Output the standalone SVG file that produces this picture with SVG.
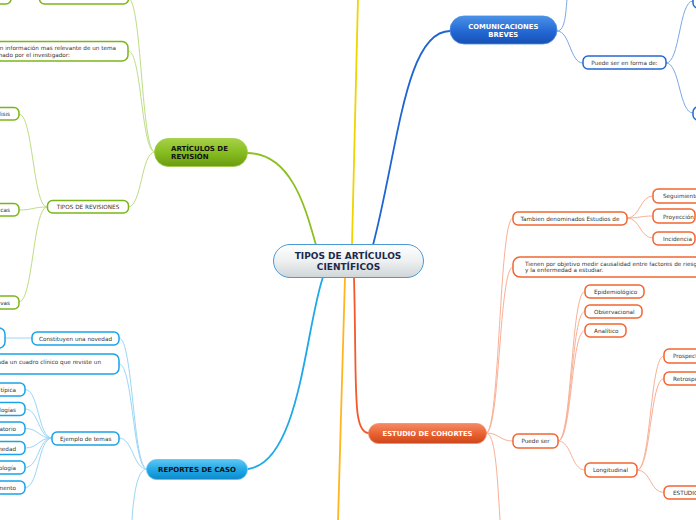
<svg xmlns="http://www.w3.org/2000/svg" width="696" height="520" viewBox="0 0 696 520">
<defs>
<linearGradient id="gC" x1="0" y1="0" x2="0" y2="1"><stop offset="0" stop-color="#ffffff"/><stop offset="0.5" stop-color="#eef0f1"/><stop offset="1" stop-color="#cfd5d8"/></linearGradient>
<linearGradient id="gG" x1="0" y1="0" x2="0" y2="1"><stop offset="0" stop-color="#a6d246"/><stop offset="0.55" stop-color="#84ba1e"/><stop offset="1" stop-color="#6a9a12"/></linearGradient>
<linearGradient id="gB" x1="0" y1="0" x2="0" y2="1"><stop offset="0" stop-color="#4a92e8"/><stop offset="0.55" stop-color="#2468d4"/><stop offset="1" stop-color="#1650b4"/></linearGradient>
<linearGradient id="gL" x1="0" y1="0" x2="0" y2="1"><stop offset="0" stop-color="#5cc6f4"/><stop offset="0.55" stop-color="#1ea6e6"/><stop offset="1" stop-color="#0f88c8"/></linearGradient>
<linearGradient id="gO" x1="0" y1="0" x2="0" y2="1"><stop offset="0" stop-color="#f58a64"/><stop offset="0.55" stop-color="#e8602f"/><stop offset="1" stop-color="#cc461c"/></linearGradient>
</defs>
<style>
.t{font-family:"DejaVu Sans",Verdana,sans-serif;font-size:5.7px;fill:#333}
.m{font-family:"DejaVu Sans",Verdana,sans-serif;font-weight:bold}
.sg{fill:#fff;stroke:#7cb518;stroke-width:1.5}
.sl{fill:#fff;stroke:#1aa3e8;stroke-width:1.5}
.sb{fill:#fff;stroke:#2468d0;stroke-width:1.5}
.so{fill:#fff;stroke:#f26531;stroke-width:1.5}
.cg{fill:none;stroke:#bddd85;stroke-width:1}
.cl{fill:none;stroke:#9ad6f5;stroke-width:1}
.cb{fill:none;stroke:#7aa7e6;stroke-width:1}
.co{fill:none;stroke:#f8b096;stroke-width:1}
.cm{fill:none;stroke-width:1.8}
</style>
<rect width="696" height="520" fill="#fff"/>
<g id="connectors">
<path class="cm" stroke="#f0d400" d="M352,245 C354,160 356,80 358,-2"/>
<path class="cm" stroke="#ffb61e" d="M345,277 C343,360 340,440 338,522"/>
<path class="cm" stroke="#8cc021" d="M316,245 C306,210 292,153 247,153"/>
<path class="cm" stroke="#1e64d2" d="M373,245 C398,150 405,31 450,31"/>
<path class="cm" stroke="#1ea8ea" d="M323,277 C305,330 300,462 248,469"/>
<path class="cm" stroke="#f25a2a" d="M354,277 C357,390 352,433 369,433"/>
<path class="cg" d="M155,152 C141,152 142,-2 128,-2"/>
<path class="cg" d="M155,152 C141,152 142,51 128,51"/>
<path class="cg" d="M155,152 C141,152 142,207 128,207"/>
<path class="cg" d="M47,207 C33,207 33,114 19,114"/>
<path class="cg" d="M47,207 C33,207 33,210 19,210"/>
<path class="cg" d="M47,207 C33,207 33,302 19,302"/>
<path class="cl" d="M147,469 C133,469 133,338 119,338"/>
<path class="cl" d="M147,469 C133,469 133,364 119,364"/>
<path class="cl" d="M147,469 C133,469 133,438 119,438"/>
<path class="cl" d="M147,469 C138,469 134,490 132,520"/>
<path class="cl" d="M32,338 L5,338"/>
<path class="cl" d="M52,438 C38,438 39,389.5 25,389.5"/>
<path class="cl" d="M52,438 C38,438 39,409 25,409"/>
<path class="cl" d="M52,438 C38,438 39,428.5 25,428.5"/>
<path class="cl" d="M52,438 C38,438 39,448 25,448"/>
<path class="cl" d="M52,438 C38,438 39,467.5 25,467.5"/>
<path class="cl" d="M52,438 C38,438 39,487.5 25,487.5"/>
<path class="cb" d="M557,31 C566,31 566,10 568,-15"/>
<path class="cb" d="M557,31 C570,31 570,63 583,63"/>
<path class="cb" d="M666,63 C680,63 679,1 693,1"/>
<path class="cb" d="M666,63 C680,63 679,113 693,113"/>
<path class="co" d="M486,433 C500,433 499,218 513,218"/>
<path class="co" d="M486,433 C500,433 499,267 513,267"/>
<path class="co" d="M486,433 C500,433 499,441 513,441"/>
<path class="co" d="M486,433 C495,433 497,470 500,520"/>
<path class="co" d="M627,218 C640,218 640,196 653,196"/>
<path class="co" d="M627,218 C640,218 640,216 653,216"/>
<path class="co" d="M627,218 C640,218 640,238 653,238"/>
<path class="co" d="M558,441 C572,441 571,291.5 585,291.5"/>
<path class="co" d="M558,441 C572,441 571,311.5 585,311.5"/>
<path class="co" d="M558,441 C572,441 571,330.5 585,330.5"/>
<path class="co" d="M558,441 C572,441 571,470 585,470"/>
<path class="co" d="M637,470 C651,470 650,356 664,356"/>
<path class="co" d="M637,470 C651,470 650,378.5 664,378.5"/>
<path class="co" d="M637,470 C651,470 650,492.5 664,492.5"/>
</g>
<g id="center"><rect x="273.5" y="244.5" width="150" height="33" rx="16.5" fill="url(#gC)" stroke="#4a9ad6" stroke-width="1"/>
<text class="m" font-size="9" fill="#1b2a4e" text-anchor="middle" x="348" y="259.3">TIPOS DE ARTÍCULOS</text>
<text class="m" font-size="9" fill="#1b2a4e" text-anchor="middle" x="348.5" y="270">CIENTÍFICOS</text></g>
<g id="articulos"><rect x="154.5" y="138.5" width="93" height="28" rx="14" fill="url(#gG)" stroke="#9ccc40" stroke-width="0.8"/>
<text class="m" font-size="7" fill="#111" x="171" y="150.7">ARTÍCULOS DE</text>
<text class="m" font-size="7" fill="#111" x="171" y="159.3">REVISIÓN</text></g>
<g id="comunicaciones"><rect x="450" y="16" width="107" height="28" rx="14" fill="url(#gB)" stroke="#4a8fe0" stroke-width="0.8"/>
<text class="m" font-size="6.8" fill="#fff" text-anchor="middle" x="503.3" y="29">COMUNICACIONES</text>
<text class="m" font-size="6.8" fill="#fff" text-anchor="middle" x="503.3" y="37">BREVES</text></g>
<g id="reportes"><rect x="146.5" y="459.5" width="101" height="20" rx="10" fill="url(#gL)" stroke="#5cc4f2" stroke-width="0.8"/>
<text class="m" font-size="7" fill="#111" text-anchor="middle" x="197" y="472">REPORTES DE CASO</text></g>
<g id="cohortes"><rect x="368.5" y="423.5" width="118" height="20" rx="10" fill="url(#gO)" stroke="#f58a64" stroke-width="0.8"/>
<text class="m" font-size="6.8" fill="#fff" text-anchor="middle" x="427.5" y="436">ESTUDIO DE COHORTES</text></g>
<g id="g-top"><rect class="sg" x="39.5" y="-9" width="89" height="13" rx="5"/></g>
<g id="g-top-left"><rect class="sg" x="-20" y="-9" width="31" height="13" rx="5"/></g>
<g id="g-info"><rect class="sg" x="-20" y="41.5" width="148" height="19.5" rx="6"/>
<text class="t" text-anchor="end" x="116" y="50">an información mas relevante de un tema</text>
<text class="t" text-anchor="end" x="70" y="57">onado por el investigador:</text></g>
<g id="g-tipos"><rect class="sg" x="47.5" y="200.5" width="81" height="12.5" rx="5"/>
<text class="t" text-anchor="middle" x="88" y="209">TIPOS DE REVISIONES</text></g>
<g id="g-lisis"><rect class="sg" x="-20" y="107.5" width="39" height="12.5" rx="5"/><text class="t" text-anchor="end" x="10" y="116">lisis</text></g>
<g id="g-icas"><rect class="sg" x="-20" y="203.5" width="39" height="12.5" rx="5"/><text class="t" text-anchor="end" x="10" y="212">icas</text></g>
<g id="g-ivas"><rect class="sg" x="-20" y="296" width="39" height="13" rx="5"/><text class="t" text-anchor="end" x="10" y="304.5">ivas</text></g>
<g id="l-const"><rect class="sl" x="32" y="332" width="87" height="13" rx="5"/><text class="t" text-anchor="middle" x="75.5" y="341">Constituyen una novedad</text></g>
<g id="l-const-left"><rect class="sl" x="-20" y="328" width="25" height="20" rx="6"/></g>
<g id="l-cuadro"><rect class="sl" x="-20" y="354" width="139" height="20" rx="6"/><text class="t" text-anchor="end" x="101" y="364">ada un cuadro clínico que reviste un</text></g>
<g id="l-ejemplo"><rect class="sl" x="52" y="432" width="67" height="13" rx="5"/><text class="t" text-anchor="middle" x="85.7" y="441">Ejemplo de temas</text></g>
<g id="l-e1"><rect class="sl" x="-20" y="383" width="45" height="13" rx="5"/><text class="t" text-anchor="end" x="16" y="392">típica</text></g>
<g id="l-e2"><rect class="sl" x="-20" y="402.5" width="45" height="13" rx="5"/><text class="t" text-anchor="end" x="16" y="411.5">logías</text></g>
<g id="l-e3"><rect class="sl" x="-20" y="422" width="45" height="13" rx="5"/><text class="t" text-anchor="end" x="16" y="431">atorio</text></g>
<g id="l-e4"><rect class="sl" x="-20" y="441.5" width="45" height="13" rx="5"/><text class="t" text-anchor="end" x="16" y="450.5">nedad</text></g>
<g id="l-e5"><rect class="sl" x="-20" y="461" width="45" height="13" rx="5"/><text class="t" text-anchor="end" x="16" y="470">ología</text></g>
<g id="l-e6"><rect class="sl" x="-20" y="481" width="45" height="13" rx="5"/><text class="t" text-anchor="end" x="16" y="490">mento</text></g>
<g id="b-puede"><rect class="sb" x="583" y="56" width="83" height="13" rx="5"/><text class="t" text-anchor="middle" x="624.5" y="65">Puede ser en forma de:</text></g>
<g id="b-top"><rect class="sb" x="693" y="-6" width="30" height="14" rx="5"/></g>
<g id="b-bottom"><rect class="sb" x="693" y="107" width="30" height="13" rx="5"/></g>
<g id="o-tambien"><rect class="so" x="513" y="212" width="114" height="13" rx="5"/><text class="t" text-anchor="middle" x="570" y="221">Tambien denominados Estudios de</text></g>
<g id="o-seg"><rect class="so" x="653" y="189" width="60" height="14" rx="5"/><text class="t" x="663" y="198">Seguimiento</text></g>
<g id="o-proy"><rect class="so" x="653" y="209" width="42" height="14" rx="5"/><text class="t" x="663" y="218.5">Proyección</text></g>
<g id="o-inc"><rect class="so" x="653" y="232" width="42" height="13" rx="5"/><text class="t" x="663" y="240.5">Incidencia</text></g>
<g id="o-tienen"><rect class="so" x="513" y="257" width="200" height="20" rx="7"/>
<text class="t" x="525" y="265.5">Tienen por objetivo medir causalidad entre factores de riesgo</text>
<text class="t" x="525" y="272">y la enfermedad a estudiar.</text></g>
<g id="o-puede"><rect class="so" x="513" y="434" width="45" height="14" rx="5"/><text class="t" text-anchor="middle" x="535.5" y="443">Puede ser</text></g>
<g id="o-epi"><rect class="so" x="585" y="285" width="59" height="13" rx="5"/><text class="t" x="594" y="294">Epidemiológico</text></g>
<g id="o-obs"><rect class="so" x="585" y="305" width="57" height="13" rx="5"/><text class="t" x="594" y="314">Observacional</text></g>
<g id="o-ana"><rect class="so" x="585" y="324" width="41" height="13" rx="5"/><text class="t" x="594" y="333">Analítico</text></g>
<g id="o-long"><rect class="so" x="585" y="463" width="52" height="14" rx="5"/><text class="t" text-anchor="middle" x="610.5" y="472">Longitudinal</text></g>
<g id="o-pros"><rect class="so" x="664" y="349" width="50" height="14" rx="5"/><text class="t" x="673" y="358">Prospect</text></g>
<g id="o-retro"><rect class="so" x="664" y="372" width="50" height="13" rx="5"/><text class="t" x="673" y="380.5">Retrospe</text></g>
<g id="o-est"><rect class="so" x="664" y="486" width="50" height="13" rx="5"/><text class="t" x="673" y="495">ESTUDIO</text></g>
</svg>
